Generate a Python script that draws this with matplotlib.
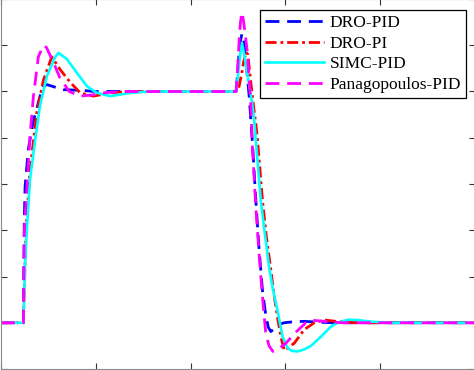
import numpy as np
import matplotlib
matplotlib.use("Agg")
import matplotlib.pyplot as plt

# values (time, output)
t_dro_pid = [0, 11.8, 12.3, 12.7, 14.4, 16.9, 20.6, 22.2, 24.2, 28, 33, 41.8, 50,
             124.0, 124.8, 125.6, 126.3, 127.1, 128.0, 129.3, 130.9, 132.6, 134.4,
             136.1, 137.9, 139.7, 141.0, 142.3, 143.5, 146.0, 149.4, 155, 160, 167,
             175, 250]
y_dro_pid = [0, 0, 0.45, 0.59, 0.75, 0.866, 0.98, 1.02, 1.03, 1.02, 1.008, 1.005, 1.0,
             1.0, 1.08, 1.17, 1.22, 1.25, 1.22, 1.12, 0.98, 0.78, 0.53,
             0.32, 0.14, 0.03, -0.02, -0.038, -0.03, -0.008, 0.0, 0.005, 0.006, 0.003,
             0, 0]

t_dro_pi = [0, 11.8, 12.5, 13.2, 15.3, 18.9, 22.4, 26.8, 31.2, 36.5, 41.8, 48.7, 57.7,
            66.5, 124.0, 125.5, 127.0, 128.0, 129.3, 130.2, 131.6, 133.3, 134.4, 135.3,
            137.0, 137.9, 140.0, 142.3, 144.0, 145.9, 147.6, 149.4, 151.2, 154.7,
            159.9, 165.2, 170.5, 177.6, 188, 250]
y_dro_pi = [0, 0, 0.2, 0.40, 0.66, 0.91, 1.05, 1.15, 1.095, 1.04, 0.994, 0.98, 0.994,
            1.0, 1.0, 1.02, 1.08, 1.13, 1.17, 1.16, 1.05, 0.93, 0.86, 0.79,
            0.62, 0.53, 0.37, 0.23, 0.12, 0.02, -0.06, -0.12, -0.11, -0.088,
            -0.03, 0.0, 0.012, 0.005, 0, 0]

t_simc = [0, 11.8, 12.7, 13.6, 15.3, 18.0, 20.6, 24.2, 28.6, 30.3, 34.8, 40.1, 45.3,
          50.6, 57.7, 68.3, 78, 124.0, 125.4, 126.3, 127.1, 128.5, 130.0, 131.5, 132.6,
          133.5, 135.3, 137.0, 138.8, 141.4, 143.5, 145.9, 148.5, 151.2, 153.5, 156.5,
          160, 163.5, 168.8, 174.1, 177.6, 182.9, 188, 193.5, 204.1, 250]
y_simc = [0, 0, 0.26, 0.40, 0.62, 0.79, 0.94, 1.066, 1.15, 1.167, 1.14, 1.08, 1.023,
          0.994, 0.98, 0.994, 1.0, 1.0, 1.1, 1.17, 1.21, 1.15, 1.07, 1.0, 0.94,
          0.88, 0.7, 0.53, 0.41, 0.24, 0.14, 0.05, -0.06, -0.11, -0.122, -0.124,
          -0.115, -0.1, -0.06, -0.016, 0.0, 0.013, 0.012, 0.006, 0, 0]

t_pana = [0, 11.8, 12.3, 13.6, 15.3, 17.1, 19.7, 22.4, 24, 27.7, 31, 36, 41.8, 48, 55,
          65, 124.0, 124.8, 125.6, 126.3, 127.1, 128.0, 129.8, 131.6, 132.6, 134.4,
          136.1, 137.5, 138.8, 139.7, 141.4, 143.4, 146, 150.1, 155.6, 160.8, 165.1,
          172, 180, 250]
y_pana = [0, 0, 0.40, 0.58, 0.81, 0.98, 1.15, 1.2, 1.19, 1.125, 1.06, 1.0, 0.98, 0.985,
          0.995, 1.0, 1.0, 1.1, 1.22, 1.3, 1.343, 1.3, 1.18, 0.97, 0.76, 0.5,
          0.30, 0.15, 0.03, -0.05, -0.1, -0.124, -0.115, -0.09, -0.04, 0.0, 0.01,
          0.005, 0, 0]

labels = ['DRO-PID', 'DRO-PI', 'SIMC-PID', 'Panagopoulos-PID']

fig = plt.figure(figsize=(4.74, 3.70), dpi=100)
ax = fig.add_axes([1 / 474, 1 / 370, 474 / 474, 370 / 370])

ax.plot(t_dro_pid, y_dro_pid, color='#0000ff', lw=2.0, dashes=(5, 2.8), label=labels[0])
ax.plot(t_dro_pi, y_dro_pi, color='#ff0000', lw=2.0, dashes=(4, 1.4, 1, 1.4), label=labels[1])
ax.plot(t_simc, y_simc, color='#00ffff', lw=1.9, label=labels[2])
ax.plot(t_pana, y_pana, color='#ff00ff', lw=2.0, dashes=(5, 2.8), label=labels[3])

ax.set_xlim(0, 250)
ax.set_ylim(-0.2, 1.4)
ax.set_xticks(np.arange(0, 251, 50))
ax.set_yticks(np.arange(-0.2, 1.41, 0.2))
ax.tick_params(direction='in', length=4, width=0.8, top=True, right=True,
               labelbottom=False, labelleft=False, colors='#333333')
for s in ax.spines.values():
    s.set_color('#888888')
    s.set_linewidth(0.8)

leg = ax.legend(loc='upper left', bbox_to_anchor=(260 / 474, 1 - 10 / 370),
                bbox_transform=fig.transFigure, prop={'family': 'Liberation Serif', 'size': 12.5},
                frameon=True, fancybox=False, edgecolor='black', framealpha=1,
                handlelength=3.4, handletextpad=0.3, labelspacing=0.25,
                borderpad=0.3, borderaxespad=0)
leg.get_frame().set_linewidth(0.9)

fig.savefig('out.png', dpi=100)
